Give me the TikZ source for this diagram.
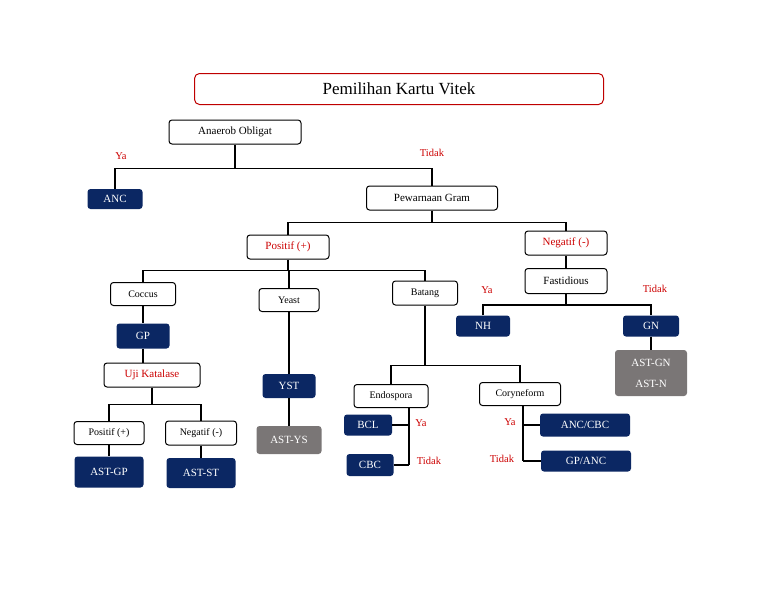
\documentclass[tikz,border=0pt]{standalone}
\usepackage{fontspec}
\setmainfont{Liberation Serif}
\begin{document}
\begin{tikzpicture}[x=1pt,y=-1pt,
 box/.style={draw=black,line width=1pt,rounded corners=3pt,fill=white,font=\fontsize{10}{11}\selectfont,minimum height=23pt,inner sep=2pt},
 rbox/.style={box,text=red!80!black},
 dbox/.style={fill=darkb,text=white,rounded corners=3pt,font=\fontsize{11}{12}\selectfont,minimum height=21pt,inner sep=2pt},
 gbox/.style={dbox,fill=greyb},
 lab/.style={text=red!80!black,font=\fontsize{10.5}{11}\selectfont},
 ln/.style={line width=1.2pt}]
\definecolor{darkb}{HTML}{0B2763}
\definecolor{greyb}{HTML}{7A7676}
\path[use as bounding box] (0,0) rectangle (768,594);
\node[draw=red!75!black,line width=1pt,rounded corners=5pt,minimum width=409pt,minimum height=31pt,font=\fontsize{17}{19}\selectfont] (title) at (399,89) {Pemilihan Kartu Vitek};
\node[box,minimum width=132pt,minimum height=24pt,font=\fontsize{11}{12}\selectfont] (ao) at (235,132) {Anaerob Obligat};
\node[dbox,minimum width=55pt,minimum height=20pt] (anc) at (115,199) {ANC};
\node[box,minimum width=131pt,minimum height=24pt,font=\fontsize{11}{12}\selectfont] (pg) at (432,198) {Pewarnaan Gram};
\node[rbox,minimum width=82pt,minimum height=24pt,font=\fontsize{11}{12}\selectfont] (pos) at (288,247) {Positif (+)};
\node[rbox,minimum width=82pt,minimum height=24pt,font=\fontsize{11}{12}\selectfont] (neg) at (566,243) {Negatif (-)};
\node[box,minimum width=65pt] (coc) at (143,294) {Coccus};
\node[box,minimum width=60pt] (yea) at (289,300) {Yeast};
\node[box,minimum width=65pt,minimum height=24pt] (bat) at (425,293) {Batang};
\node[box,minimum width=82pt,minimum height=25pt,font=\fontsize{11}{12}\selectfont] (fas) at (566,281) {Fastidious};
\node[dbox,minimum width=54pt] (nh) at (483,326) {NH};
\node[dbox,minimum width=56pt] (gn) at (651,326) {GN};
\node[gbox,minimum width=72pt,minimum height=46pt,align=center,font=\fontsize{11}{21}\selectfont] (astgn) at (651,373) {AST-GN\\AST-N};
\node[dbox,minimum width=53pt,minimum height=25pt] (gp) at (143,336) {GP};
\node[rbox,minimum width=96pt,minimum height=24pt,font=\fontsize{11}{12}\selectfont] (uk) at (152,375) {Uji Katalase};
\node[box,minimum width=70pt] (pos2) at (109,433) {Positif (+)};
\node[box,minimum width=71pt,minimum height=24pt] (neg2) at (201,433) {Negatif (-)};
\node[dbox,minimum width=69pt,minimum height=31pt] (astgp) at (109,472) {AST-GP};
\node[dbox,minimum width=69pt,minimum height=30pt] (astst) at (201,473) {AST-ST};
\node[dbox,minimum width=53pt,minimum height=24pt] (yst) at (289,386) {YST};
\node[gbox,minimum width=65pt,minimum height=28pt] (astys) at (289,440) {AST-YS};
\node[box,minimum width=74pt] (endo) at (391,396) {Endospora};
\node[box,minimum width=81pt] (cory) at (520,394) {Coryneform};
\node[dbox,minimum width=48pt] (bcl) at (368,425) {BCL};
\node[dbox,minimum width=47pt,minimum height=22pt] (cbc) at (370,465) {CBC};
\node[dbox,minimum width=90pt,minimum height=23pt] (anccbc) at (585,425) {ANC/CBC};
\node[dbox,minimum width=90pt,minimum height=21pt] (gpanc) at (586,461) {GP/ANC};
\node[lab] (l1) at (121,156) {Ya};
\node[lab] (l2) at (432,153) {Tidak};
\node[lab] (l3) at (487,290) {Ya};
\node[lab] (l4) at (655,289) {Tidak};
\node[lab] (l5) at (421,423) {Ya};
\node[lab] (l6) at (429,461) {Tidak};
\node[lab] (l7) at (510,422) {Ya};
\node[lab] (l8) at (502,459) {Tidak};
\draw[ln] (ao.south) -- ++(0,24) coordinate (a1);
\draw[ln] (anc.north) |- (a1) -| (pg.north);
\draw[ln] (pg.south) -- ++(0,12) coordinate (a2);
\draw[ln] (pos.north) |- (a2) -| (neg.north);
\draw[ln] (pos.south) -- ++(0,11) coordinate (a3);
\draw[ln] (coc.north) |- (a3) -| (bat.north);
\draw[ln] (yea.north) -- (yea.north |- a3);
\draw[ln] (neg.south) -- (fas.north);
\draw[ln] (fas.south) -- ++(0,11) coordinate (a4);
\draw[ln] (nh.north) |- (a4) -| (gn.north);
\draw[ln] (gn.south) -- (astgn.north);
\draw[ln] (coc.south) -- (gp.north);
\draw[ln] (gp.south) -- (gp.south |- uk.north);
\draw[ln] (uk.south) -- ++(0,17) coordinate (a5);
\draw[ln] (pos2.north) |- (a5) -| (neg2.north);
\draw[ln] (pos2.south) -- (astgp.north);
\draw[ln] (neg2.south) -- (astst.north);
\draw[ln] (yea.south) -- (yst.north);
\draw[ln] (yst.south) -- (astys.north);
\draw[ln] (bat.south) -- ++(0,60) coordinate (a6);
\draw[ln] (endo.north) |- (a6) -| (cory.north);
\draw[ln] (endo.south -| 409,0) coordinate (e1) -- (409,465) coordinate (e2);
\draw[ln] (bcl.east) -- (bcl.east -| e1);
\draw[ln] (cbc.east) -- (e2);
\draw[ln] (cory.south -| 523,0) coordinate (c1) -- (523,461) coordinate (c2);
\draw[ln] (anccbc.west) -- (anccbc.west -| c1);
\draw[ln] (gpanc.west) -- (c2);
\end{tikzpicture}
\end{document}
